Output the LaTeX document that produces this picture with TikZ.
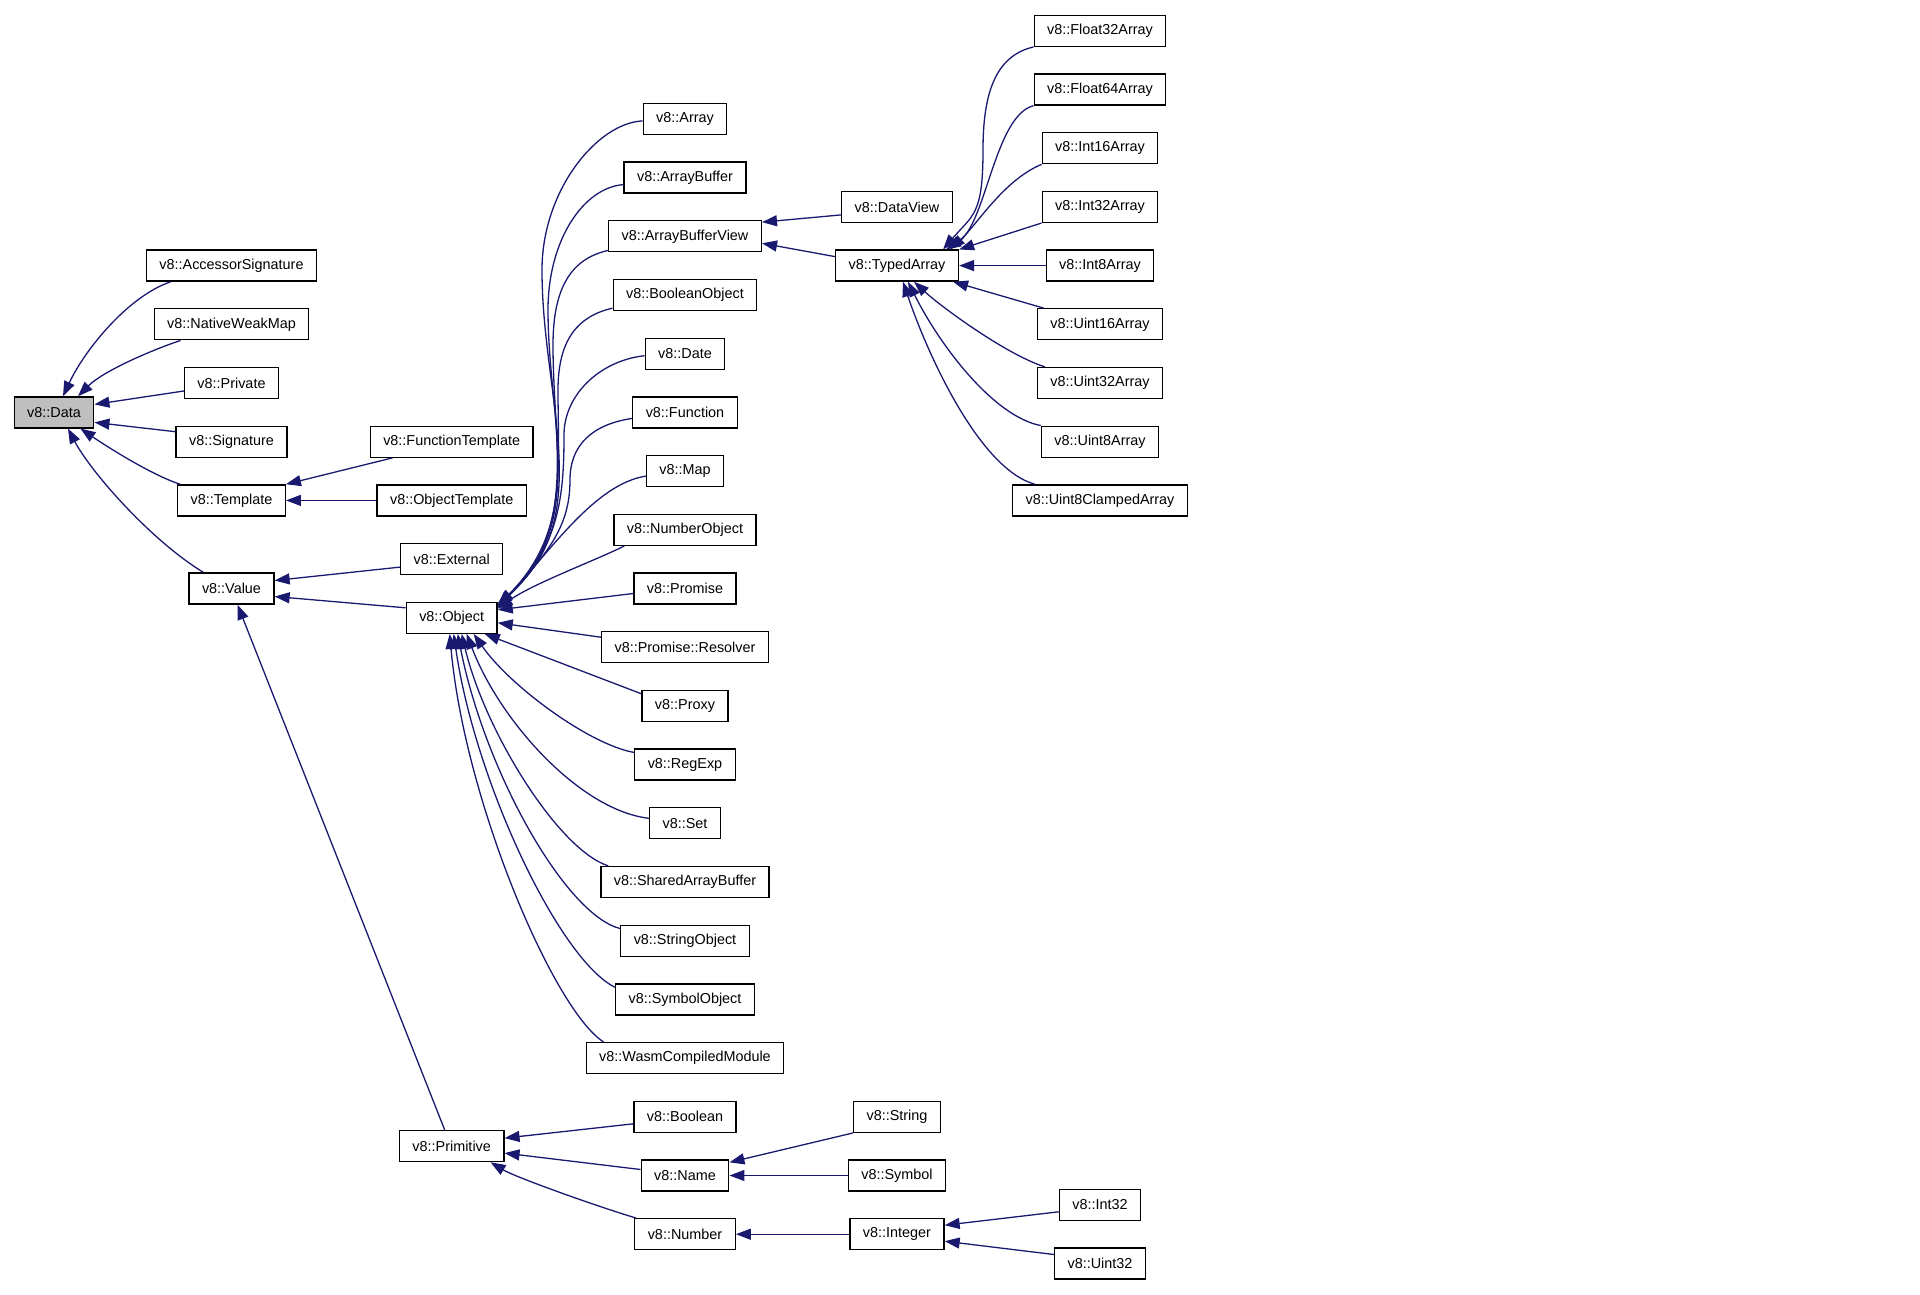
\documentclass[tikz,border=0pt]{standalone}
\usepackage{fontspec}
\setmainfont{Liberation Sans}
\usetikzlibrary{arrows.meta}
\definecolor{edgeblue}{RGB}{25,25,112}
\definecolor{datafill}{RGB}{191,191,191}
\begin{document}
\begin{tikzpicture}[x=1pt,y=-1pt]
	\tikzstyle{every node}+=[inner sep=0pt]
	\tikzstyle{cls}=[draw=black, line width=1.3pt, minimum height=31pt, inner xsep=13pt, font=\fontsize{14.4}{17}\selectfont]
	\tikzstyle{inh}=[draw=edgeblue, line width=1.3pt, -{Triangle[length=15pt,width=11pt]}]
	\useasboundingbox (0,0) rectangle (1920,1294);
	\node [cls, fill=datafill] (data) at (54,412.4) {v8::Data};
	\node [cls] (acsig) at (231.5,265.6) {v8::AccessorSignature};
	\node [cls] (nwm) at (231.5,324.3) {v8::NativeWeakMap};
	\node [cls] (priv) at (231.5,383.0) {v8::Private};
	\node [cls] (sig) at (231.5,441.7) {v8::Signature};
	\node [cls] (tmpl) at (231.5,500.4) {v8::Template};
	\node [cls] (val) at (231.5,588.5) {v8::Value};
	\node [cls] (ftmpl) at (451.7,441.7) {v8::FunctionTemplate};
	\node [cls] (otmpl) at (451.7,500.4) {v8::ObjectTemplate};
	\node [cls] (ext) at (451.7,559.1) {v8::External};
	\node [cls] (obj) at (451.7,617.8) {v8::Object};
	\node [cls] (prim) at (451.7,1146.1) {v8::Primitive};
	\node [cls] (arr) at (685,118.9) {v8::Array};
	\node [cls] (abuf) at (685,177.6) {v8::ArrayBuffer};
	\node [cls] (abv) at (685,236.3) {v8::ArrayBufferView};
	\node [cls] (bobj) at (685,295.0) {v8::BooleanObject};
	\node [cls] (vdate) at (685,353.7) {v8::Date};
	\node [cls] (func) at (685,412.4) {v8::Function};
	\node [cls] (vmap) at (685,471.1) {v8::Map};
	\node [cls] (nobj) at (685,529.8) {v8::NumberObject};
	\node [cls] (prom) at (685,588.5) {v8::Promise};
	\node [cls] (pres) at (685,647.2) {v8::Promise::Resolver};
	\node [cls] (prox) at (685,705.9) {v8::Proxy};
	\node [cls] (rexp) at (685,764.6) {v8::RegExp};
	\node [cls] (vset) at (685,823.3) {v8::Set};
	\node [cls] (sab) at (685,882.0) {v8::SharedArrayBuffer};
	\node [cls] (sobj) at (685,940.7) {v8::StringObject};
	\node [cls] (syobj) at (685,999.4) {v8::SymbolObject};
	\node [cls] (wasm) at (685,1058.1) {v8::WasmCompiledModule};
	\node [cls] (vbool) at (685,1116.8) {v8::Boolean};
	\node [cls] (vname) at (685,1175.5) {v8::Name};
	\node [cls] (num) at (685,1234.2) {v8::Number};
	\node [cls] (dview) at (897,206.9) {v8::DataView};
	\node [cls] (tarr) at (897,265.6) {v8::TypedArray};
	\node [cls] (str) at (897,1116.8) {v8::String};
	\node [cls] (sym) at (897,1175.5) {v8::Symbol};
	\node [cls] (intg) at (897,1234.2) {v8::Integer};
	\node [cls] (f32) at (1100,30.8) {v8::Float32Array};
	\node [cls] (f64) at (1100,89.5) {v8::Float64Array};
	\node [cls] (i16) at (1100,148.2) {v8::Int16Array};
	\node [cls] (i32a) at (1100,206.9) {v8::Int32Array};
	\node [cls] (i8) at (1100,265.6) {v8::Int8Array};
	\node [cls] (u16) at (1100,324.3) {v8::Uint16Array};
	\node [cls] (u32a) at (1100,383.0) {v8::Uint32Array};
	\node [cls] (u8) at (1100,441.7) {v8::Uint8Array};
	\node [cls] (u8c) at (1100,500.4) {v8::Uint8ClampedArray};
	\node [cls] (int32) at (1100,1204.8) {v8::Int32};
	\node [cls] (uint32) at (1100,1263.5) {v8::Uint32};
	\draw [inh] ([xshift=25pt]acsig.south west) .. controls +(-42,14) and +(22,-47) .. ([xshift=9pt]data.north);
	\draw [inh] ([xshift=27pt]nwm.south west) .. controls +(-30,10) and +(25,-25) .. ([xshift=24pt]data.north);
	\draw [inh] ([yshift=-8pt]priv.west) -- ([yshift=8pt]data.east);
	\draw [inh] ([yshift=10pt]sig.west) -- ([yshift=-10pt]data.east);
	\draw [inh] ([xshift=3pt]tmpl.north west) .. controls +(-30,-10) and +(25,17) .. ([xshift=-14pt]data.south east);
	\draw [inh] ([xshift=15pt]val.north west) .. controls +(-54,-33) and +(22,42) .. ([xshift=14pt]data.south);
	\draw [inh] ([xshift=23pt]ftmpl.south west) -- (tmpl.north east);
	\draw [inh] (otmpl.west) -- (tmpl.east);
	\draw [inh] ([yshift=-8pt]ext.west) -- ([yshift=8pt]val.east);
	\draw [inh] ([yshift=10pt]obj.west) -- ([yshift=-8pt]val.east);
	\draw [inh] ([xshift=-7pt]prim.north) -- ([xshift=6pt]val.south);
	\draw [inh] ([yshift=-2pt]arr.west) .. controls +(-45,2) and +(0,-80) .. (542,270) .. controls +(0,130) and +(100,-84) .. ([yshift=-2pt]obj.north east);
	\draw [inh] ([yshift=-7pt]abuf.west) .. controls +(-40,3) and +(0,-70) .. (548,310) .. controls +(0,110) and +(90,-80) .. ([yshift=-3pt]obj.north east);
	\draw [inh] ([yshift=2pt]abv.south west) .. controls +(-35,8) and +(0,-60) .. (553,345) .. controls +(0,100) and +(80,-75) .. ([yshift=-4pt]obj.north east);
	\draw [inh] ([yshift=3pt]bobj.south west) .. controls +(-35,8) and +(0,-50) .. (558,390) .. controls +(0,80) and +(70,-70) .. ([yshift=-4pt]obj.north east);
	\draw [inh] ([yshift=-2pt]vdate.west) .. controls +(-45,5) and +(0,-40) .. (564,435) .. controls +(0,60) and +(62,-60) .. ([yshift=-5pt]obj.north east);
	\draw [inh] ([yshift=-6pt]func.west) .. controls +(-40,6) and +(0,-35) .. (570,480) .. controls +(0,45) and +(52,-55) .. ([yshift=-5pt]obj.north east);
	\draw [inh] ([yshift=-5pt]vmap.west) .. controls +(-50,8) and +(55,-60) .. ([yshift=-6pt]obj.north east);
	\draw [inh] ([xshift=11pt]nobj.south west) .. controls +(-30,15) and +(35,-25) .. ([yshift=-7pt]obj.north east);
	\draw [inh] ([yshift=-5pt]prom.west) -- ([yshift=8pt]obj.east);
	\draw [inh] ([yshift=10pt]pres.west) -- ([yshift=-5pt]obj.east);
	\draw [inh] ([yshift=-4pt]prox.north west) -- ([xshift=-13pt]obj.south east);
	\draw [inh] ([yshift=-4pt]rexp.north west) .. controls +(-45,-8) and +(36,52) .. ([xshift=22pt]obj.south);
	\draw [inh] ([yshift=5pt]vset.west) .. controls +(-69,-8) and +(33,87) .. ([xshift=15pt]obj.south);
	\draw [inh] ([xshift=8pt]sab.north west) .. controls +(-50,-16) and +(23,97) .. ([xshift=10pt]obj.south);
	\draw [inh] ([yshift=-4pt]sobj.north west) .. controls +(-55,-14) and +(27,137) .. ([xshift=6pt]obj.south);
	\draw [inh] ([yshift=-4pt]syobj.north west) .. controls +(-56,-28) and +(21,147) .. ([xshift=2pt]obj.south);
	\draw [inh] ([xshift=18pt]wasm.north west) .. controls +(-50,-32) and +(15,167) .. ([xshift=-2pt]obj.south);
	\draw [inh] ([yshift=-8pt]dview.west) -- ([yshift=-2pt]abv.north east);
	\draw [inh] ([yshift=9pt]tarr.west) -- ([yshift=-7pt]abv.east);
	\draw [inh] (f32.south west) .. controls +(-39,9) and +(0,-55) .. (983,150) .. controls +(0,65) and +(30,-35) .. ([xshift=-16pt]tarr.north east);
	\draw [inh] (f64.south west) .. controls +(-39,10) and +(40,-25) .. ([xshift=-13pt]tarr.north east);
	\draw [inh] (i16.south west) .. controls +(-38,16) and +(27,-25) .. ([xshift=-9pt]tarr.north east);
	\draw [inh] (i32a.south west) -- (tarr.north east);
	\draw [inh] (i8.west) -- (tarr.east);
	\draw [inh] ([xshift=7pt]u16.north west) -- ([xshift=-6pt]tarr.south east);
	\draw [inh] ([xshift=8pt]u32a.north west) .. controls +(-40,-13) and +(26,24) .. ([xshift=17pt]tarr.south);
	\draw [inh] (u8.north west) .. controls +(-47,-9) and +(32,64) .. ([xshift=11pt]tarr.south);
	\draw [inh] ([xshift=23pt]u8c.north west) .. controls +(-55,-15) and +(25,74) .. ([xshift=6pt]tarr.south);
	\draw [inh] ([yshift=-7pt]vbool.west) -- ([yshift=8pt]prim.east);
	\draw [inh] ([yshift=6pt]vname.west) -- ([yshift=-7pt]prim.east);
	\draw [inh] ([xshift=2pt]num.north west) .. controls +(-40,-12) and +(25,15) .. ([xshift=-14pt]prim.south east);
	\draw [inh] (str.south west) -- ([yshift=-3pt]vname.north east);
	\draw [inh] (sym.west) -- (vname.east);
	\draw [inh] (intg.west) -- (num.east);
	\draw [inh] ([yshift=-7pt]int32.west) -- ([yshift=9pt]intg.east);
	\draw [inh] ([yshift=9pt]uint32.west) -- ([yshift=-7pt]intg.east);
\end{tikzpicture}
\end{document}
